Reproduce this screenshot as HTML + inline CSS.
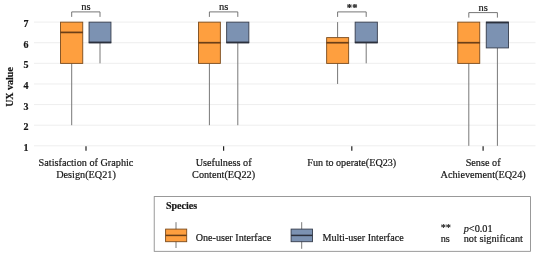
<!DOCTYPE html>
<html><head><meta charset="utf-8"><title>UX value chart</title>
<style>
html,body{margin:0;padding:0;background:#fff;}
body{width:542px;height:258px;overflow:hidden;}
svg{display:block;}
text{font-family:"Liberation Serif","Times New Roman",serif;fill:#141414;stroke:#141414;stroke-width:0.18px;font-variant-ligatures:none;}
.b{font-weight:bold;}
</style></head><body>
<svg width="542" height="258" viewBox="0 0 542 258">
<rect width="542" height="258" fill="#fff"/>
<line x1="34" x2="535.5" y1="145.82" y2="145.82" stroke="#eeeeee" stroke-width="1"/>
<text class="b" x="25.9" y="150.82" font-size="10" text-anchor="middle">1</text>
<line x1="34" x2="535.5" y1="125.20" y2="125.20" stroke="#eeeeee" stroke-width="1"/>
<text class="b" x="25.9" y="130.20" font-size="10" text-anchor="middle">2</text>
<line x1="34" x2="535.5" y1="104.58" y2="104.58" stroke="#eeeeee" stroke-width="1"/>
<text class="b" x="25.9" y="109.58" font-size="10" text-anchor="middle">3</text>
<line x1="34" x2="535.5" y1="83.96" y2="83.96" stroke="#eeeeee" stroke-width="1"/>
<text class="b" x="25.9" y="88.96" font-size="10" text-anchor="middle">4</text>
<line x1="34" x2="535.5" y1="63.34" y2="63.34" stroke="#eeeeee" stroke-width="1"/>
<text class="b" x="25.9" y="68.34" font-size="10" text-anchor="middle">5</text>
<line x1="34" x2="535.5" y1="42.72" y2="42.72" stroke="#eeeeee" stroke-width="1"/>
<text class="b" x="25.9" y="47.72" font-size="10" text-anchor="middle">6</text>
<line x1="34" x2="535.5" y1="22.10" y2="22.10" stroke="#eeeeee" stroke-width="1"/>
<text class="b" x="25.9" y="27.10" font-size="10" text-anchor="middle">7</text>
<text class="b" font-size="10" text-anchor="middle" transform="translate(13.2,87) rotate(-90)">UX value</text>
<line x1="71.7" x2="71.7" y1="63.34" y2="125.20" stroke="#787878" stroke-width="1"/>
<rect x="60.55" y="22.15" width="22.20" height="41.24" fill="#fe9f3f" stroke="#7a4a1c" stroke-width="0.9"/>
<line x1="60.3" x2="83.0" y1="32.41" y2="32.41" stroke="#6b3f17" stroke-width="1.7"/>
<line x1="100.0" x2="100.0" y1="42.72" y2="63.34" stroke="#787878" stroke-width="1"/>
<rect x="89.05" y="22.15" width="21.90" height="20.62" fill="#7c92b2" stroke="#363d4c" stroke-width="0.9"/>
<line x1="88.8" x2="111.2" y1="42.42" y2="42.42" stroke="#2b303c" stroke-width="1.7"/>
<path d="M71.7 16.9V11.9H100.0V16.9" fill="none" stroke="#666" stroke-width="0.9"/>
<text x="85.8" y="10.0" font-size="10.5" text-anchor="middle">ns</text>
<line x1="86" x2="86" y1="146.3" y2="150.8" stroke="#222" stroke-width="1.2"/>
<text x="86" y="165.6" font-size="10.23" text-anchor="middle">Satisfaction of Graphic</text>
<text x="86" y="178" font-size="10.23" text-anchor="middle">Design(EQ21)</text>
<line x1="209.4" x2="209.4" y1="63.34" y2="125.20" stroke="#787878" stroke-width="1"/>
<rect x="198.55" y="22.15" width="21.80" height="41.24" fill="#fe9f3f" stroke="#7a4a1c" stroke-width="0.9"/>
<line x1="198.3" x2="220.6" y1="42.72" y2="42.72" stroke="#6b3f17" stroke-width="1.7"/>
<line x1="237.8" x2="237.8" y1="42.72" y2="125.20" stroke="#787878" stroke-width="1"/>
<rect x="226.65" y="22.15" width="22.20" height="20.62" fill="#7c92b2" stroke="#363d4c" stroke-width="0.9"/>
<line x1="226.4" x2="249.1" y1="42.42" y2="42.42" stroke="#2b303c" stroke-width="1.7"/>
<path d="M209.4 16.9V11.9H237.8V16.9" fill="none" stroke="#666" stroke-width="0.9"/>
<text x="223.6" y="10.0" font-size="10.5" text-anchor="middle">ns</text>
<line x1="223.6" x2="223.6" y1="146.3" y2="150.8" stroke="#222" stroke-width="1.2"/>
<text x="223.6" y="165.6" font-size="10.23" text-anchor="middle">Usefulness of</text>
<text x="223.6" y="178" font-size="10.23" text-anchor="middle">Content(EQ22)</text>
<line x1="337.6" x2="337.6" y1="63.34" y2="83.96" stroke="#787878" stroke-width="1"/>
<line x1="337.6" x2="337.6" y1="37.56" y2="22.10" stroke="#787878" stroke-width="1"/>
<rect x="326.65" y="37.62" width="22.00" height="25.78" fill="#fe9f3f" stroke="#7a4a1c" stroke-width="0.9"/>
<line x1="326.4" x2="348.9" y1="42.72" y2="42.72" stroke="#6b3f17" stroke-width="1.7"/>
<line x1="366.2" x2="366.2" y1="42.72" y2="63.34" stroke="#787878" stroke-width="1"/>
<rect x="355.15" y="22.15" width="22.20" height="20.62" fill="#7c92b2" stroke="#363d4c" stroke-width="0.9"/>
<line x1="354.9" x2="377.6" y1="42.42" y2="42.42" stroke="#2b303c" stroke-width="1.7"/>
<path d="M337.6 16.9V11.9H366.2V16.9" fill="none" stroke="#666" stroke-width="0.9"/>
<text class="b" x="352.2" y="11.1" font-size="10.5" text-anchor="middle" stroke="none" letter-spacing="0.3">**</text>
<line x1="351.8" x2="351.8" y1="146.3" y2="150.8" stroke="#222" stroke-width="1.2"/>
<text x="351.8" y="165.6" font-size="10.15" text-anchor="middle">Fun to operate(EQ23)</text>
<line x1="468.8" x2="468.8" y1="63.34" y2="145.82" stroke="#787878" stroke-width="1"/>
<rect x="457.75" y="22.15" width="22.00" height="41.24" fill="#fe9f3f" stroke="#7a4a1c" stroke-width="0.9"/>
<line x1="457.5" x2="480.0" y1="42.72" y2="42.72" stroke="#6b3f17" stroke-width="1.7"/>
<line x1="497.4" x2="497.4" y1="47.88" y2="145.82" stroke="#787878" stroke-width="1"/>
<rect x="486.25" y="22.15" width="22.20" height="25.77" fill="#7c92b2" stroke="#363d4c" stroke-width="0.9"/>
<line x1="486.0" x2="508.7" y1="22.55" y2="22.55" stroke="#2b303c" stroke-width="1.7"/>
<path d="M468.8 17.599999999999998V12.6H497.4V17.599999999999998" fill="none" stroke="#666" stroke-width="0.9"/>
<text x="483.1" y="10.6" font-size="10.5" text-anchor="middle">ns</text>
<line x1="483.1" x2="483.1" y1="146.3" y2="150.8" stroke="#222" stroke-width="1.2"/>
<text x="483.1" y="165.6" font-size="10.23" text-anchor="middle">Sense of</text>
<text x="483.1" y="178" font-size="10.23" text-anchor="middle">Achievement(EQ24)</text>
<rect x="154.2" y="196.6" width="376.4" height="54.7" fill="#fff" stroke="#808080" stroke-width="0.8"/>
<text class="b" x="166" y="208.5" font-size="10">Species</text>
<line x1="176" x2="176" y1="222.2" y2="248" stroke="#555" stroke-width="0.8"/>
<rect x="165.6" y="229.1" width="21.1" height="12.6" fill="#fe9f3f" stroke="#7a4a1c" stroke-width="0.9"/>
<line x1="165.6" x2="186.7" y1="235.4" y2="235.4" stroke="#6b3f17" stroke-width="1.5"/>
<text x="195.7" y="240.8" font-size="10.12">One-user Interface</text>
<line x1="301.7" x2="301.7" y1="222.2" y2="248.8" stroke="#555" stroke-width="0.8"/>
<rect x="291.1" y="229.1" width="21.4" height="12.6" fill="#7c92b2" stroke="#363d4c" stroke-width="0.9"/>
<line x1="291.1" x2="312.5" y1="235.4" y2="235.4" stroke="#2b303c" stroke-width="1.5"/>
<text x="322.4" y="240.8" font-size="10.15">Multi-user Interface</text>
<text x="440.7" y="231.1" font-size="10.3">**</text>
<text x="463.7" y="231.5" font-size="10.3"><tspan font-style="italic">p</tspan>&lt;0.01</text>
<text x="440.7" y="241.7" font-size="10.3">ns</text>
<text x="463.7" y="241.7" font-size="10.3">not significant</text>
</svg>
</body></html>
